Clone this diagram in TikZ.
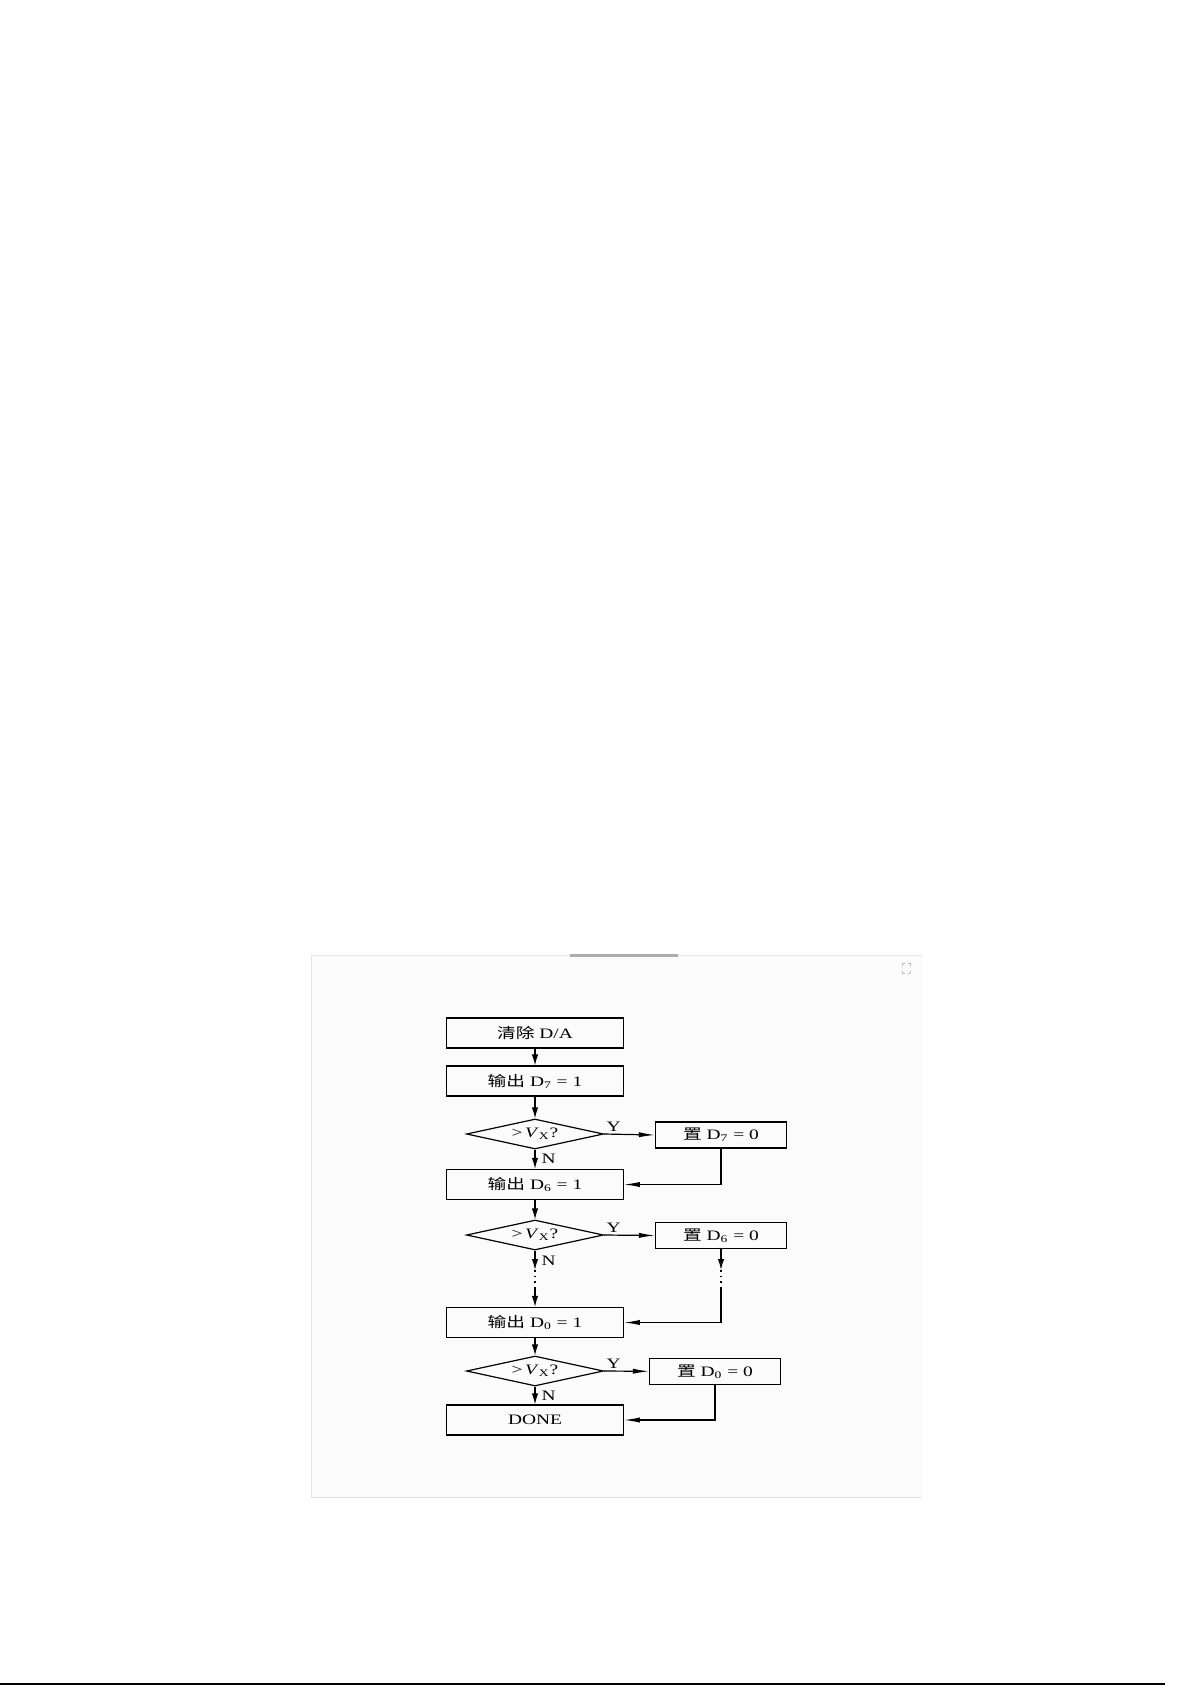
\documentclass[tikz,border=0pt]{standalone}
\usepackage{fontspec}
\setmainfont{Liberation Serif}[FakeStretch=1.35]
\newfontfamily\cjk{Noto Sans CJK SC}[FakeStretch=1.3]
\usetikzlibrary{shapes.geometric,arrows.meta}

\tikzset{
  txt/.style={font=\fontsize{7.2}{8}\selectfont},
  box/.style={draw, txt, line width=0.6pt, minimum width=88.3pt, minimum height=15pt, inner sep=0pt},
  setbox/.style={box, minimum width=65.5pt, minimum height=13pt},
  test/.style={draw, txt, diamond, aspect=4.5, line width=0.6pt, inner sep=0pt, minimum width=68.5pt, minimum height=15pt},
  flow/.style={line width=0.6pt, -{Latex[length=5.5pt,width=3.2pt]}},
  back/.style={line width=0.6pt, -{Latex[length=8pt,width=2.6pt]}},
  dots/.style={line width=0.8pt, dash pattern=on 0.8pt off 2pt},
  lbl/.style={txt, inner sep=1pt}
}

\begin{document}
\begin{tikzpicture}[x=0.5pt, y=-0.5pt]
        \useasboundingbox (0,0) rectangle (1192,1685);
        % screenshot frame
        \fill[gray!3] (311.5,955) rectangle (921.5,1497);
        \draw[gray!22, line width=0.5pt] (921.5,955) -- (311.5,955) -- (311.5,1497) -- (921.5,1497);
        \draw[gray!65, line width=1.2pt] (570,955.5) -- (678,955.5);
        \draw[gray!55, line width=0.4pt] (902,963) -- (902,965.5) (902,963) -- (904.5,963)
          (910,963) -- (910,965.5) (910,963) -- (907.5,963)
          (902,973) -- (902,970.5) (902,973) -- (904.5,973)
          (910,973) -- (910,970.5) (910,973) -- (907.5,973);
        % page rule
        \draw[line width=1pt] (0,1683.5) -- (1165,1683.5);

        % flow chart
        \node[box] (clr) at (535,1033) {{\cjk 清除} D/A};
        \node[box] (out7) at (535,1081) {{\cjk 输出} D\textsubscript{7} = 1};
        \node[test] (t7) at (535,1134) {>\,\textit{V}\textsubscript{X}?};
        \node[setbox] (set7) at (721,1135) {{\cjk 置} D\textsubscript{7} = 0};
        \node[box] (out6) at (535,1184.5) {{\cjk 输出} D\textsubscript{6} = 1};
        \node[test] (t6) at (535,1235) {>\,\textit{V}\textsubscript{X}?};
        \node[setbox] (set6) at (721,1235.5) {{\cjk 置} D\textsubscript{6} = 0};
        \node[box] (out0) at (535,1322.5) {{\cjk 输出} D\textsubscript{0} = 1};
        \node[test] (t0) at (535,1371) {>\,\textit{V}\textsubscript{X}?};
        \node[setbox] (set0) at (715,1371.3) {{\cjk 置} D\textsubscript{0} = 0};
        \node[box] (done) at (535,1420) {DONE};
        \coordinate (l1) at (535,1270);
        \coordinate (l2) at (535,1288);
        \coordinate (r1) at (721,1270);
        \coordinate (r2) at (721,1288);

        \draw[flow] (clr) -- (out7);
        \draw[flow] (out7) -- (t7);
        \draw[back] (t7.east) node[lbl, anchor=south west] {Y} -- (set7.west);
        \draw[flow] (t7) -- node[lbl, right=2pt] {N} (out6);
        \draw[back] (set7.south) |- (out6.east);

        \draw[flow] (out6) -- (t6);
        \draw[back] (t6.east) node[lbl, anchor=south west] {Y} -- (set6.west);
        \draw[flow] (t6) -- node[lbl, right=2pt] {N} (l1);
        \draw[dots] (l1) -- (l2);
        \draw[flow] (l2) -- (out0);
        \draw[flow] (set6) -- (r1);
        \draw[dots] (r1) -- (r2);
        \draw[back] (r2) |- (out0.east);

        \draw[flow] (out0) -- (t0);
        \draw[back] (t0.east) node[lbl, anchor=south west] {Y} -- (set0.west);
        \draw[flow] (t0) -- node[lbl, right=2pt] {N} (done);
        \draw[back] (set0.south) |- (done.east);
\end{tikzpicture}
\end{document}
